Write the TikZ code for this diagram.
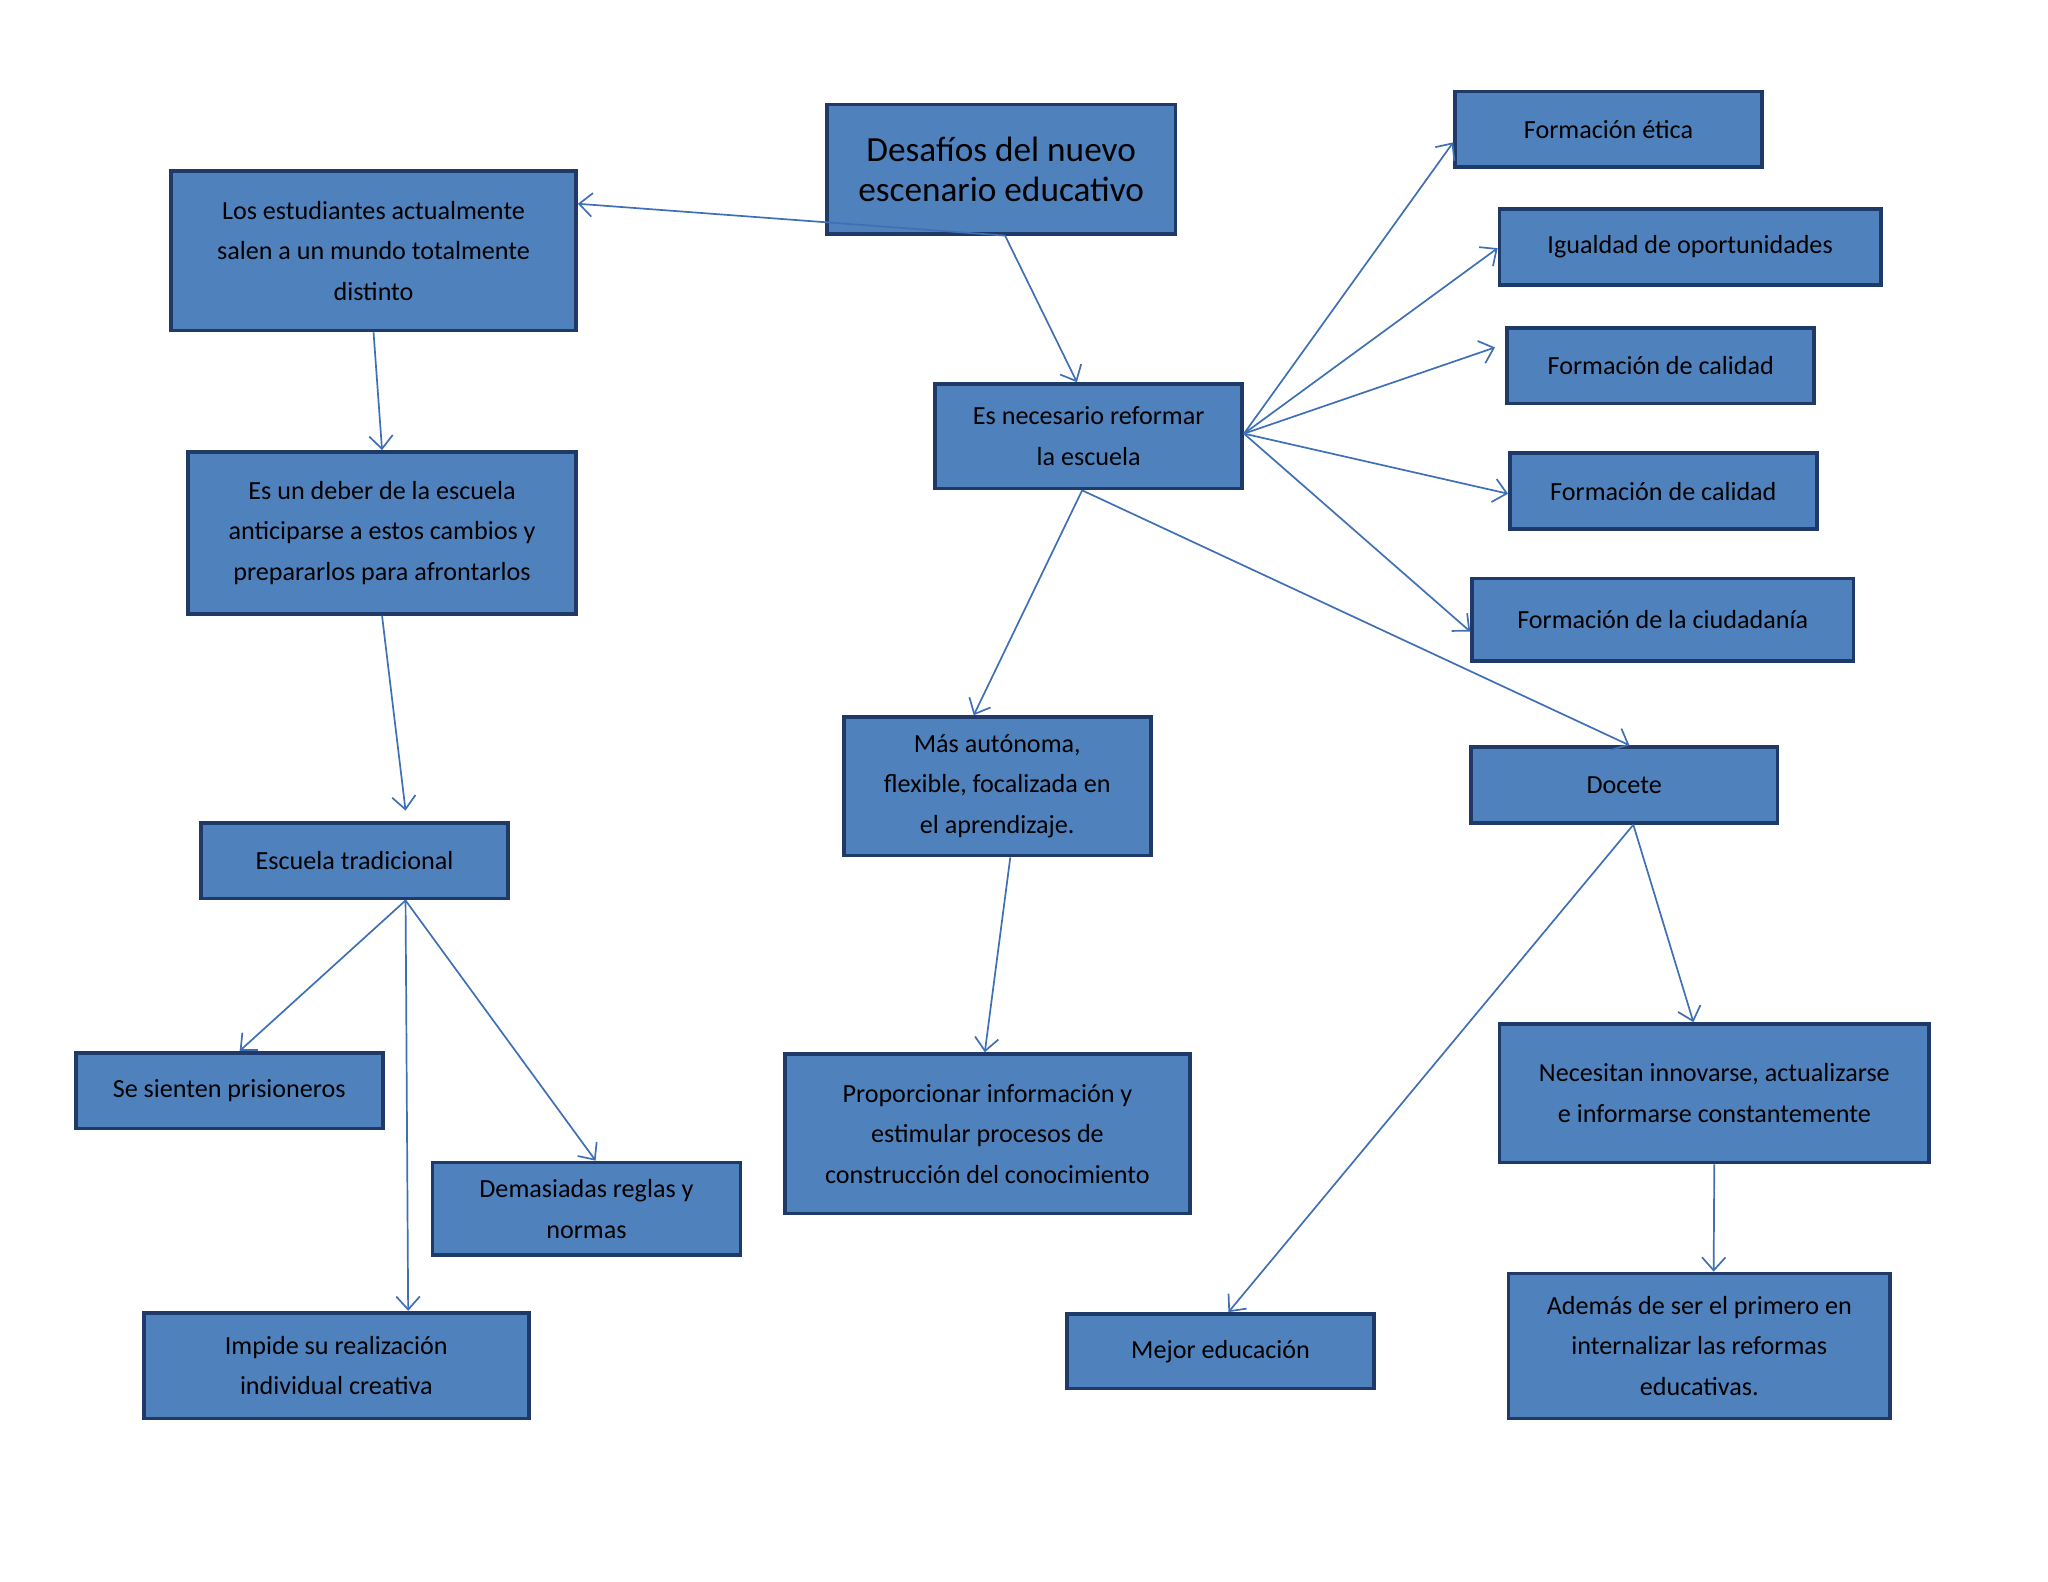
\documentclass[tikz,border=0pt]{standalone}
\usepackage{fontspec}
\setmainfont{Carlito}
\usetikzlibrary{arrows.meta}
\definecolor{boxfill}{HTML}{4F81BD}
\definecolor{boxdraw}{HTML}{1F3A68}
\definecolor{arr}{HTML}{3F6FB5}
\begin{document}
\begin{tikzpicture}[x=0.5pt,y=-0.5pt,
  box/.style={draw=boxdraw,line width=1.4pt,fill=boxfill,align=center,inner sep=0pt,
    font=\fontsize{10}{15.5}\selectfont,text=black},
  ar/.style={draw=arr,line width=0.65pt,-{Straight Barb[length=5pt,width=9pt]}}]
\useasboundingbox (0,0) rectangle (1568,1211);
\newcommand{\bx}[6]{\node[box,minimum width={(#4-#2)*0.5pt},minimum height={(#5-#3)*0.5pt}] (#1) at ({(#2+#4)/2},{(#3+#5)/2}) {#6};}
\bx{title}{633}{80}{900}{179}{\fontsize{13.5}{20}\selectfont Desafíos del nuevo\\\fontsize{13.5}{20}\selectfont escenario educativo}
\bx{los}{131}{131}{441}{253}{Los estudiantes actualmente\\salen a un mundo totalmente\\distinto}
\bx{deber}{144}{346}{441}{470}{Es un deber de la escuela\\anticiparse a estos cambios y\\prepararlos para afrontarlos}
\bx{trad}{154}{630}{389}{688}{Escuela tradicional}
\bx{pris}{58}{806}{293}{864}{Se sienten prisioneros}
\bx{dem}{331}{890}{567}{961}{Demasiadas reglas y\\normas}
\bx{imp}{110}{1005}{405}{1086}{Impide su realización\\individual creativa}
\bx{ref}{716}{294}{951}{374}{Es necesario reformar\\la escuela}
\bx{aut}{646}{549}{881}{655}{Más autónoma,\\flexible, focalizada en\\el aprendizaje.}
\bx{prop}{601}{807}{911}{929}{Proporcionar información y\\estimular procesos de\\construcción del conocimiento}
\bx{etica}{1114}{70}{1349}{128}{Formación ética}
\bx{igu}{1148}{160}{1440}{218}{Igualdad de oportunidades}
\bx{cal1}{1154}{251}{1389}{309}{Formación de calidad}
\bx{cal2}{1156}{347}{1391}{405}{Formación de calidad}
\bx{ciu}{1127}{443}{1419}{506}{Formación de la ciudadanía}
\bx{doc}{1126}{572}{1361}{630}{Docete}
\bx{nec}{1148}{784}{1477}{890}{Necesitan innovarse, actualizarse\\e informarse constantemente}
\bx{mej}{817}{1006}{1052}{1063}{Mejor educación}
\bx{adem}{1155}{975}{1447}{1086}{Además de ser el primero en\\internalizar las reformas\\educativas.}
\draw[ar] ([xshift=1.5pt]title.south) -- ([yshift=18pt]los.east);
\draw[ar] ([xshift=1.5pt]title.south) -- ([xshift=-4.5pt]ref.north);
\draw[ar] ([yshift=1pt]ref.east) -- ([yshift=-5pt]etica.west);
\draw[ar] ([yshift=1pt]ref.east) -- ([yshift=-0.5pt]igu.west);
\draw[ar] ([yshift=1pt]ref.east) -- ([xshift=-4pt,yshift=7pt]cal1.west);
\draw[ar] ([yshift=1pt]ref.east) -- ([yshift=-1pt]cal2.west);
\draw[ar] ([yshift=1pt]ref.east) -- ([yshift=-4.5pt]ciu.west);
\draw[ar] ([xshift=-2.5pt]ref.south) -- ([xshift=-9pt]aut.north);
\draw[ar] ([xshift=-2.5pt]ref.south) -- ([xshift=2pt]doc.north);
\draw[ar] ([xshift=5pt]aut.south) -- ([xshift=-1pt]prop.north);
\draw[ar] ([xshift=3.5pt]doc.south) -- ([xshift=-8pt]nec.north);
\draw[ar] ([xshift=3.5pt]doc.south) -- ([xshift=3pt]mej.north);
\draw[ar] (nec.south) -- ([xshift=5.5pt]adem.north);
\draw[ar] (los.south) -- (deber.north);
\draw[ar] (deber.south) -- ([xshift=19.5pt,yshift=4pt]trad.north);
\draw[ar] ([xshift=19.5pt]trad.south) -- ([xshift=4pt]pris.north);
\draw[ar] ([xshift=19.5pt]trad.south) -- ([xshift=3.5pt]dem.north);
\draw[ar] ([xshift=19.5pt]trad.south) -- ([xshift=27.5pt]imp.north);
\end{tikzpicture}
\end{document}
